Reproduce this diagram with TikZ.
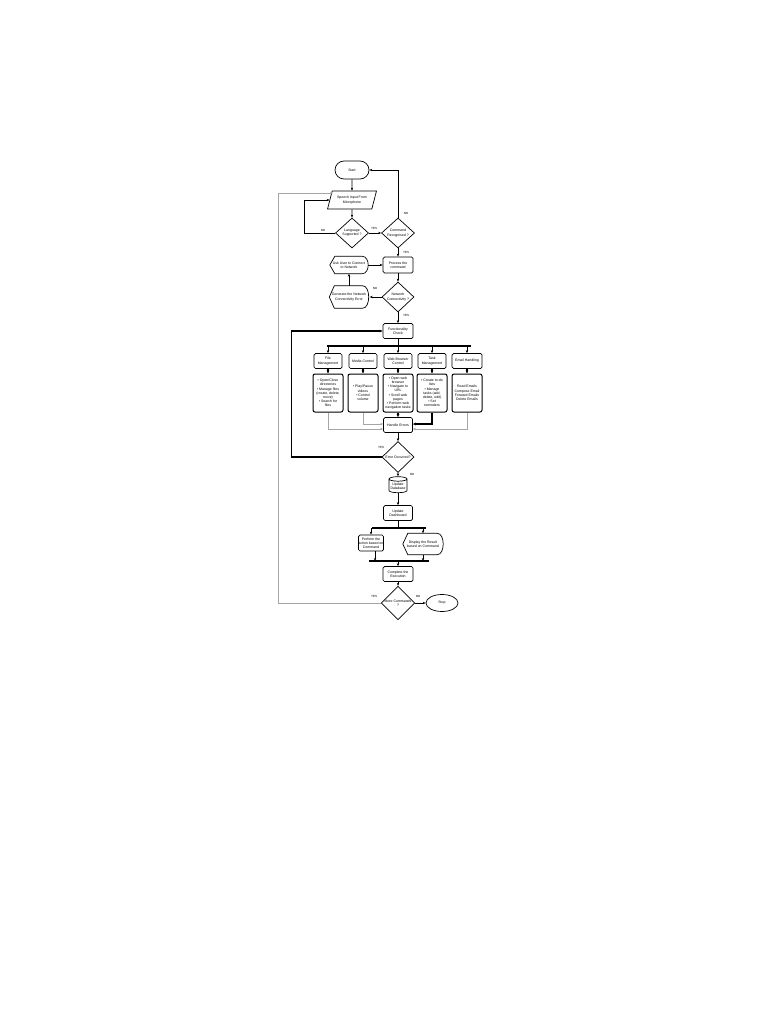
\documentclass[tikz,border=0pt]{standalone}
\usepackage{fontspec}
\setmainfont{Liberation Sans}
\usetikzlibrary{shapes.geometric,shapes.misc,arrows.meta}
\newcommand\dispoutline[1]{%
  \draw[shp] ([xshift=5pt]#1.north west) -- (#1.west) -- ([xshift=5pt]#1.south west)
    -- ([xshift=-6pt]#1.south east)
    .. controls ([xshift=2pt]#1.south east) and ([xshift=2pt]#1.north east) .. ([xshift=-6pt]#1.north east)
    -- cycle;}
\begin{document}
\begin{tikzpicture}[x=1pt,y=-1pt,
  font=\fontsize{3.5}{4.2}\selectfont,
  shp/.style={draw, line width=0.7pt},
  box/.style={shp, rectangle, rounded corners=1.5pt, align=center, inner sep=0pt},
  dia/.style={shp, diamond, minimum width=33pt, minimum height=30pt, inner sep=0pt, align=center},
  disp/.style={rectangle, align=center, inner sep=0pt},
  lbl/.style={inner sep=0pt, font=\fontsize{3}{3.6}\selectfont},
  arr/.style={line width=0.7pt, -{Stealth[length=3pt,width=2.4pt]}},
  ln/.style={line width=0.7pt},
  garr/.style={line width=0.5pt, draw=gray!70, -{Stealth[length=3pt,width=2.4pt]}},
  tarr/.style={line width=1.1pt, -{Stealth[length=3pt,width=2.6pt]}},
  bar/.style={line width=2pt},
  topbox/.style={box, minimum width=28pt, minimum height=15pt},
  botbox/.style={box, line width=1pt, minimum width=30pt, minimum height=38pt, rounded corners=2pt},
]
\useasboundingbox[fill=white] (0,0) rectangle (768,1024);

% ---- nodes ----
\node[shp, rounded rectangle, minimum width=34pt, minimum height=18pt, inner sep=0pt] (start) at (352,170) {Start};
\node[shp, trapezium, trapezium left angle=65, trapezium right angle=115, trapezium stretches=true,
      minimum width=49pt, minimum height=18pt, inner sep=0pt, align=center] (input) at (352,200) {Speech Input From\\Microphone};
\node[dia] (lang) at (352,233) {Language\\Supported ?};
\node[dia] (cmd) at (398,233) {Command\\Recognised ?};
\node[box, minimum width=30pt, minimum height=16pt] (proc) at (398,265) {Process the\\command};
\node[disp, minimum width=38pt, minimum height=17pt] (ask) at (349,265) {Ask User to Connect\\to Network};
\dispoutline{ask}
\node[dia, minimum width=32pt] (net) at (398,297) {Network\\Connectivity ?};
\node[disp, minimum width=39pt, minimum height=22pt] (gen) at (349,297) {Generate the Network\\Connectivity Error};
\dispoutline{gen}
\node[box, minimum width=30pt, minimum height=15pt] (func) at (398,331) {Functionality\\Check};

\coordinate (b1L) at (327,346);
\coordinate (b1R) at (471,346);

\node[topbox] (t1) at (328,361) {File\\Management};
\node[topbox] (t2) at (363,361) {Media Control};
\node[topbox] (t3) at (398,361) {Web Browser\\Control};
\node[topbox] (t4) at (432,361) {Task\\Management};
\node[topbox, minimum width=30pt] (t5) at (467,361) {Email Handling};

\node[botbox] (m1) at (328,393) {• Open/Close\\directories\\• Manage files\\(create, delete,\\move)\\• Search for\\files};
\node[botbox] (m2) at (363,393) {• Play/Pause\\videos\\• Control\\volume};
\node[botbox] (m3) at (398,393) {• Open web\\browser\\• Navigate to\\URL\\• Scroll web\\pages\\• Perform web\\navigation tasks};
\node[botbox] (m4) at (432,393) {• Create to-do\\lists\\• Manage\\tasks (add,\\delete, edit)\\• Set\\reminders};
\node[botbox] (m5) at (467,393) {Read Emails\\Compose Email\\Forward Emails\\Delete Emails};

\node[box, minimum width=29pt, minimum height=15pt] (handle) at (398,425) {Handle Errors};
\node[dia, minimum width=32pt, minimum height=31pt] (err) at (398,457) {Error Occurred?};
\node[shp, cylinder, shape border rotate=90, aspect=0.3, minimum width=18pt, minimum height=16pt, inner sep=0pt, align=center] (db) at (398,486) {Update\\Database};
\node[box, minimum width=29pt, minimum height=15pt] (dash) at (398,513) {Update\\Dashboard};

\coordinate (b2L) at (372,528);
\coordinate (b2R) at (426,528);

\node[box, minimum width=25pt, minimum height=16pt] (perf) at (371,543) {Perform the\\action based on\\Command};
\node[disp, minimum width=40pt, minimum height=21pt] (disp) at (423,544) {Display the Result\\based on Command};
\dispoutline{disp}

\coordinate (b3L) at (369,561);
\coordinate (b3R) at (429,561);

\node[box, minimum width=30pt, minimum height=15pt] (comp) at (398,574) {Complete the\\Execution};
\node[dia, minimum width=32pt] (more) at (398,603) {More Commands\\?};
\node[shp, ellipse, minimum width=32pt, minimum height=17pt, inner sep=0pt] (stop) at (442,603) {Stop};

\coordinate (inTop) at (333,193);

% ---- labels ----
\node[lbl] (lno1) at (323,230) {NO};
\node[lbl] (lyes1) at (374,228) {YES};
\node[lbl] (lno2) at (406,213) {NO};
\node[lbl] (lyes2) at (406,252) {YES};
\node[lbl] (lno3) at (375,288) {NO};
\node[lbl] (lyes3) at (406,315) {YES};
\node[lbl] (lyes4) at (381,447) {YES};
\node[lbl] (lno4) at (412,474) {NO};
\node[lbl] (lyes5) at (374,596) {YES};
\node[lbl] (lno5) at (418,596) {NO};

% ---- connectors ----
\draw[arr] (start) -- (input);
\draw[arr] (input) -- (lang);
\draw[arr] (lang.east) -- (cmd.west);
\draw[arr] (lang.west) -- ++(-31,0) |- (input.west);
\draw[arr] (cmd.north) |- (start.east);
\draw[arr] (cmd.south) -- (proc.north);
\draw[arr] (ask.east) -- (proc.west);
\draw[arr] (proc.south) -- (net.north);
\draw[arr] (net.west) -- ([xshift=1pt]gen.east);
\draw[arr] (gen.north) -- (ask.south);
\draw[arr] (net.south) -- (func.north);
\draw[ln] (func.south) -- (func.south |- b1L);
\draw[bar] (b1L) -- (b1R);
\foreach \t in {t1,t2,t3,t4,t5} {\draw[arr] (\t.north |- b1L) -- (\t.north);}
\foreach \t/\m in {t1/m1,t2/m2,t3/m3,t4/m4,t5/m5} {\draw[tarr] (\t.south) -- (\m.north);}
\draw[garr] (m1.south) |- ([yshift=-4pt]handle.west);
\draw[garr] (m2.south) |- ([yshift=1pt]handle.west);
\draw[tarr] (m3.south) -- (handle.north);
\draw[tarr] (m4.south) |- ([yshift=1pt]handle.east);
\draw[garr] (m5.south) |- ([yshift=-4pt]handle.east);
\draw[arr] (handle.south) -- (err.north);
\draw[tarr] (err.west) -- ++(-90,0) |- (func.west);
\draw[arr] (err.south) -- (db.north);
\draw[arr] (db.south) -- (dash.north);
\draw[ln] (dash.south) -- (dash.south |- b2L);
\draw[bar] (b2L) -- (b2R);
\draw[arr] (perf.north |- b2L) -- (perf.north);
\draw[arr] (disp.north |- b2L) -- (disp.north);
\draw[bar] (b3L) -- (b3R);
\draw[arr] ([xshift=4pt]perf.south) -- ([xshift=4pt]perf.south |- b3L);
\draw[arr] (disp.south) -- (disp.south |- b3L);
\draw[arr] (comp.north |- b3L) -- (comp.north);
\draw[arr] (comp.south) -- (more.north);
\draw[arr] (more.east) -- (stop.west);
\draw[garr] (more.west) -- ++(-103,0) |- (inTop);
\end{tikzpicture}
\end{document}
